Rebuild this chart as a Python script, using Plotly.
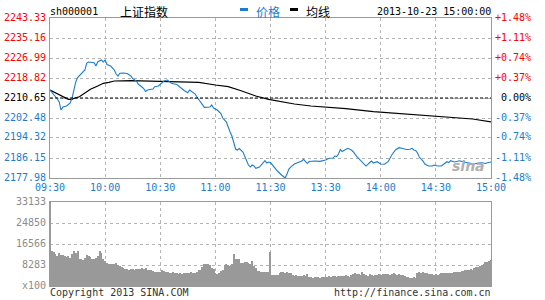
import plotly.graph_objects as go

# ---------------- data ----------------
prev_close = 2210.65
price_ticks = [2177.98, 2186.15, 2194.32, 2202.48, 2210.65, 2218.82, 2226.99, 2235.16, 2243.33]
price_labels = ["2177.98", "2186.15", "2194.32", "2202.48", "2210.65", "2218.82", "2226.99", "2235.16", "2243.33"]
pct_labels = ["-1.48%", "-1.11%", "-0.74%", "-0.37%", "0.00%", "+0.37%", "+0.74%", "+1.11%", "+1.48%"]
vol_ticks = [0, 8283, 16566, 24850, 33133]
vol_labels = ["x100", "8283", "16566", "24850", "33133"]
time_ticks = [0, 30, 60, 90, 120, 150, 180, 210, 240]
time_labels = ["09:30", "10:00", "10:30", "11:00", "11:30", "13:30", "14:00", "14:30", "15:00"]

price_min = [0, 2, 4, 5, 6, 7, 9, 11, 12, 13, 14, 15, 17, 19, 20, 21, 24, 25, 26, 28, 29, 30,
             31, 33, 35, 36, 37, 38, 40, 42, 44, 45, 47, 48, 50, 51, 52, 53, 56, 57, 59, 60,
             62, 64, 65, 66, 69, 71, 72, 73, 75, 76, 78, 79, 80, 82, 83, 84, 87, 88, 89, 91,
             93, 94, 96, 97, 98, 99, 100, 101, 102, 103, 105, 106, 107, 108, 109, 110, 111, 112,
             114, 116, 117, 118, 119, 120, 121, 122, 123, 124, 126, 127, 128, 129, 130, 131, 133,
             135, 137, 138, 139, 140, 141, 144, 147, 149, 150, 152, 154, 155, 156, 157, 158, 159,
             160, 162, 164, 165, 167, 169, 171, 172, 174, 175, 176, 177, 178, 180, 182, 184, 186,
             188, 190, 192, 194, 196, 197, 198, 199, 200, 201, 203, 204, 206, 208, 209, 211, 213,
             215, 216, 217, 218, 220, 222, 223, 225, 227, 229, 231, 233, 235, 237, 238, 240]
price = [2213.92, 2212.28, 2210.24, 2209.02, 2205.75, 2206.97, 2207.38, 2208.61, 2210.65, 2213.92,
         2217.19, 2219.02, 2220.45, 2222.09, 2224.95, 2225.36, 2225.07, 2223.72, 2225.48, 2226.17,
         2225.36, 2226.17, 2224.33, 2223.72, 2222.09, 2220.45, 2219.64, 2220.74, 2220.86, 2220.66,
         2219.64, 2218.62, 2217.59, 2216.37, 2215.14, 2214.53, 2213.31, 2213.92, 2214.33, 2215.27,
         2215.55, 2216.37, 2217.59, 2218.00, 2217.19, 2216.65, 2216.16, 2215.14, 2214.33, 2213.71,
         2212.82, 2213.92, 2212.69, 2212.28, 2211.06, 2209.02, 2207.79, 2206.85, 2206.97, 2207.79,
         2206.56, 2205.75, 2204.32, 2202.48, 2200.85, 2198.39, 2196.76, 2195.13, 2192.27, 2189.82,
         2189.41, 2190.02, 2188.59, 2186.55, 2184.91, 2183.28, 2182.46, 2183.28, 2182.87, 2181.93,
         2182.46, 2184.10, 2185.04, 2184.10, 2184.51, 2184.30, 2183.28, 2182.26, 2181.44, 2180.63,
         2179.20, 2178.38, 2177.98, 2179.60, 2181.65, 2182.46, 2183.69, 2184.30, 2184.91, 2185.61,
         2184.51, 2183.89, 2184.71, 2184.91, 2184.79, 2185.12, 2185.32, 2186.02, 2186.14, 2186.96,
         2186.75, 2187.77, 2189.61, 2188.80, 2189.29, 2190.10, 2189.41, 2188.71, 2186.75, 2185.04,
         2183.48, 2182.87, 2184.30, 2184.91, 2184.10, 2184.51, 2184.63, 2183.69, 2183.61, 2184.63,
         2187.37, 2189.41, 2190.35, 2190.02, 2189.61, 2189.69, 2190.10, 2189.41, 2189.20, 2188.18,
         2186.55, 2184.91, 2183.69, 2182.87, 2182.87, 2183.28, 2182.87, 2182.87, 2184.10, 2184.63,
         2184.30, 2185.04, 2184.51, 2184.71, 2185.04, 2184.51, 2184.22, 2183.89, 2183.69, 2184.10,
         2184.22, 2183.89, 2184.22, 2184.51]

avg_min = [0, 4, 10, 12, 13, 16, 19, 22, 26, 29, 32, 35, 44, 53, 61, 71, 81, 90, 97, 104, 112,
           119, 126, 133, 142, 151, 161, 176, 194, 212, 230, 240]
avg_price = [2213.92, 2212.28, 2210.12, 2210.04, 2210.53, 2211.18, 2212.82, 2214.20, 2215.55,
             2216.65, 2217.06, 2217.59, 2217.72, 2217.59, 2217.31, 2217.31, 2217.06, 2215.96,
             2215.27, 2213.63, 2211.47, 2210.12, 2209.14, 2208.20, 2207.38, 2206.85, 2206.28,
             2205.05, 2203.99, 2203.01, 2202.07, 2200.90]

volume = [33133, 13800, 13300, 12500, 12000, 12900, 12400, 12200, 12000, 11500,
          11800, 11200, 12500, 13800, 13000, 13800, 10800, 10500, 10200, 11000,
          12200, 11800, 11500, 10800, 10600, 11200, 11800, 13800, 13000, 10500,
          10000, 9000, 8800, 8500, 8800, 8600, 9000, 8200, 7800, 7500,
          7000, 6800, 6700, 6500, 6800, 6600, 6400, 6700, 6900, 6600,
          7100, 6900, 7000, 6500, 6200, 6500, 5800, 5600, 5500, 5400,
          5500, 6500, 6100, 5700, 5600, 5300, 5100, 5500, 5300, 5000,
          4900, 5200, 4800, 5000, 5300, 5100, 5000, 5600, 5300, 5000,
          5500, 6200, 6500, 7300, 8700, 8800, 8600, 8300, 7200, 6700,
          5100, 4800, 5000, 6000, 6500, 8200, 8700, 8400, 8000, 8600,
          12600, 10800, 10500, 10700, 9000, 8900, 9300, 9400, 9200, 8700,
          10000, 8000, 7200, 6000, 5800, 5600, 5500, 5400, 5600, 5500,
          13500, 4300, 4200, 4400, 4300, 5300, 5600, 5500, 5200, 5400,
          5000, 5300, 4200, 4000, 4400, 4100, 3900, 4000, 4200, 3800,
          4800, 3500, 3400, 3300, 3600, 3400, 3500, 3300, 3400, 3600,
          3500, 3700, 3900, 3600, 3800, 4000, 3700, 3900, 4100, 3800,
          4000, 4200, 3900, 3700, 4500, 4700, 5000, 4600, 4800, 4500,
          5400, 4700, 4300, 4100, 4600, 4400, 4000, 4500, 4200, 4700,
          4400, 4600, 4800, 4900, 4700, 4500, 4800, 5000, 4600, 4400,
          4700, 4500, 4300, 3800, 3500, 3400, 3200, 3300, 3600, 3100,
          5200, 5400, 5100, 5500, 5000, 5300, 4900, 4800, 4700, 4400,
          4600, 4500, 4800, 5100, 5000, 5200, 5000, 5300, 5100, 5200,
          5600, 5400, 5700, 5500, 5900, 5800, 6200, 6400, 6300, 6600,
          6500, 7000, 7300, 7500, 7800, 8200, 8800, 9300, 9500, 9800, 10300]
vol_min = list(range(len(volume)))

# ---------------- style ----------------
W, H = 545, 300
BLUE = "#1a7dd0"
RED = "#ff0000"
GRID = "#b4b4b4"
FRAME = "#9a9a9a"
MONO = "DejaVu Sans Mono"
CJK = "Noto Sans CJK SC"


def px(x):
    return x / W


def py(y):
    return 1 - y / H


fig = go.Figure()
fig.add_trace(go.Bar(x=vol_min, y=volume, xaxis="x2", yaxis="y2",
                     marker=dict(color="#999999", line=dict(width=0)), width=0.58))
fig.add_trace(go.Scatter(x=avg_min, y=avg_price, mode="lines",
                         line=dict(color="#000000", width=1.2)))
fig.add_trace(go.Scatter(x=price_min, y=price, mode="lines",
                         line=dict(color=BLUE, width=1.1)))

axis_common = dict(showline=True, mirror=True, linecolor=FRAME, linewidth=1,
                   showgrid=True, gridcolor=GRID, griddash="dot", gridwidth=1,
                   zeroline=False, ticks="", fixedrange=True, automargin=False)

fig.update_layout(
    width=W, height=H, margin=dict(l=0, r=0, t=0, b=0, autoexpand=False),
    paper_bgcolor="white", plot_bgcolor="white", showlegend=False, bargap=0,
    xaxis=dict(domain=[px(50), px(491)], range=[0, 240], tickvals=time_ticks,
               ticktext=time_labels, tickfont=dict(family=MONO, size=10, color=BLUE),
               anchor="y", **axis_common),
    yaxis=dict(domain=[py(178), py(18)], range=[price_ticks[0], price_ticks[-1]],
               tickvals=price_ticks, showticklabels=False, anchor="x", **axis_common),
    xaxis2=dict(domain=[px(50), px(491)], range=[0, 240], tickvals=time_ticks,
                showticklabels=False, anchor="y2", **axis_common),
    yaxis2=dict(domain=[py(286), py(202)], range=[0, vol_ticks[-1]], tickvals=vol_ticks,
                showticklabels=False, anchor="x2", **axis_common),
)

# previous close dashed line
fig.add_shape(type="line", xref="x", yref="y", x0=0, x1=240, y0=prev_close, y1=prev_close,
              line=dict(color="#000000", width=1, dash="3px,2px"))

ann = []
for v, lab, pl in zip(price_ticks, price_labels, pct_labels):
    col = RED if v > prev_close else ("#000000" if v == prev_close else BLUE)
    ann.append(dict(x=px(48), y=v, xref="paper", yref="y", text=lab, showarrow=False,
                    xanchor="right", yanchor="middle", yshift=1,
                    font=dict(family=MONO, size=10, color=col)))
    ann.append(dict(x=px(533), y=v, xref="paper", yref="y", text=pl, showarrow=False,
                    xanchor="right", yanchor="middle", yshift=1,
                    font=dict(family=MONO, size=10, color=col)))
for v, lab in zip(vol_ticks, vol_labels):
    ann.append(dict(x=px(48), y=v, xref="paper", yref="y2", text=lab, showarrow=False,
                    xanchor="right", yanchor="middle", yshift=1,
                    font=dict(family=MONO, size=10, color="#8c8c8c")))

# header
ann.append(dict(x=px(48), y=py(11.5), xref="paper", yref="paper", text="sh000001",
                showarrow=False, xanchor="left", yanchor="middle",
                font=dict(family=MONO, size=10, color="#000000")))
ann.append(dict(x=px(118), y=py(11.5), xref="paper", yref="paper", text="上证指数",
                showarrow=False, xanchor="left", yanchor="middle",
                font=dict(family=CJK, size=12, color="#000000")))
ann.append(dict(x=px(254), y=py(11.5), xref="paper", yref="paper", text="价格",
                showarrow=False, xanchor="left", yanchor="middle",
                font=dict(family=CJK, size=12, color=BLUE)))
ann.append(dict(x=px(304), y=py(11.5), xref="paper", yref="paper", text="均线",
                showarrow=False, xanchor="left", yanchor="middle",
                font=dict(family=CJK, size=12, color="#000000")))
ann.append(dict(x=px(375), y=py(11.5), xref="paper", yref="paper", text="2013-10-23 15:00:00",
                showarrow=False, xanchor="left", yanchor="middle",
                font=dict(family=MONO, size=10, color="#000000")))
# footer
ann.append(dict(x=px(48), y=py(292), xref="paper", yref="paper", text="Copyright 2013 SINA.COM",
                showarrow=False, xanchor="left", yanchor="middle",
                font=dict(family=MONO, size=10, color="#333333")))
ann.append(dict(x=px(493), y=py(292), xref="paper", yref="paper", text="http://finance.sina.com.cn",
                showarrow=False, xanchor="right", yanchor="middle",
                font=dict(family=MONO, size=10, color="#333333")))
# watermark
ann.append(dict(x=px(468), y=py(166), xref="paper", yref="paper", text="<b><i>sina</i></b>",
                showarrow=False, xanchor="center", yanchor="middle",
                font=dict(family="DejaVu Sans", size=14, color="#b0b0b0")))
fig.update_layout(annotations=ann)

# legend swatches
fig.add_shape(type="rect", xref="paper", yref="paper", x0=px(240), x1=px(248),
              y0=py(11), y1=py(8), fillcolor=BLUE, line=dict(width=0))
fig.add_shape(type="rect", xref="paper", yref="paper", x0=px(290), x1=px(298),
              y0=py(11), y1=py(8), fillcolor="#000000", line=dict(width=0))

fig.write_html("out.html")
